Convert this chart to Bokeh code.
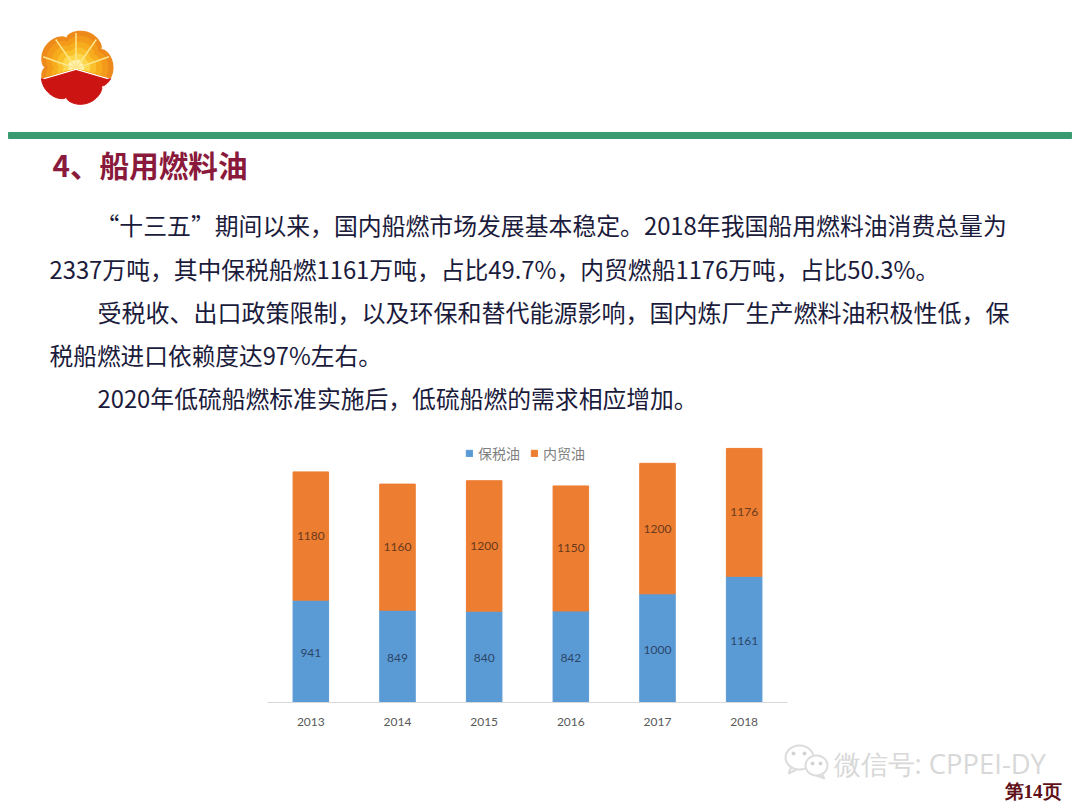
import math
from bokeh.plotting import figure
from bokeh.layouts import column
from bokeh.models import Legend, LegendItem, ColumnDataSource, FactorRange, Range1d
from bokeh.core.properties import value
from bokeh.embed import file_html
from bokeh.resources import INLINE

years = ["2013", "2014", "2015", "2016", "2017", "2018"]
bonded = [941, 849, 840, 842, 1000, 1161]
domestic = [1180, 1160, 1200, 1150, 1200, 1176]
series_names = ["保税油", "内贸油"]
title_text = "4、船用燃料油"
body_lines = [
    ("“十三五”期间以来，国内船燃市场发展基本稳定。2018年我国船用燃料油消费总量为", 95, 223.5, 23.85),
    ("2337万吨，其中保税船燃1161万吨，占比49.7%，内贸燃船1176万吨，占比50.3%。", 49, 267.5, 23.8),
    ("受税收、出口政策限制，以及环保和替代能源影响，国内炼厂生产燃料油积极性低，保", 97, 310.5, 24),
    ("税船燃进口依赖度达97%左右。", 49, 354.5, 23.7),
    ("2020年低硫船燃标准实施后，低硫船燃的需求相应增加。", 97, 396.5, 23.8),
]
CJK = "Noto Sans CJK SC"


def panel(height, top):
    f = figure(width=1080, height=height, output_backend="svg", toolbar_location=None, tools="",
               x_range=Range1d(0, 1080), y_range=Range1d(top + height, top),
               x_axis_type=None, y_axis_type=None, min_border=0)
    f.outline_line_color = None
    f.grid.visible = False
    f.frame_align = False
    return f


def put(f, text, x, y, size, color, font=CJK, style="normal"):
    f.text([x], [y], text=[text], text_font=value(font), text_font_size=f"{size}px",
           text_font_style=style, text_color=color, text_align="left", text_baseline="middle")


# ---------- header ----------
h = panel(440, 0)
h.quad(left=[8], right=[1071], top=[132], bottom=[138], color="#3a9a70")

cx, cy = 75.5, 67


def rim(deg):
    t = math.radians(deg)
    r = 31.5 + 6.0 * abs(math.cos(2.5 * t)) ** 0.6
    return r * math.cos(t), -r * math.sin(t)


def fan(scale):
    pts = [(cx + scale * rim(d)[0], cy + scale * rim(d)[1]) for d in range(-18, 199, 3)]
    return pts + [(cx, cy + 1)]


for s, c in [(1.0, "#ee8a1c"), (0.86, "#f39a1a"), (0.7, "#f7ac1e"), (0.54, "#fac02c"), (0.38, "#fdd84e"), (0.22, "#fff2b0")]:
    pts = fan(s)
    h.patch([a for a, _ in pts], [b for _, b in pts], color=c, line_width=0)
for d in [18, 54, 90, 126, 162]:
    ex, ey = rim(d)
    h.line([cx, cx + ex * 0.95], [cy + 1, cy + ey * 0.95], line_color="#fde68a", line_width=1.5)
red = [(cx - 31, cy + 12)] + [(cx + rim(d)[0], cy + rim(d)[1]) for d in range(198, 343, 3)] + [(cx + 31, cy + 12), (cx, cy + 3)]
h.patch([a for a, _ in red], [b for _, b in red], color="#cc1512", line_width=1)

put(h, title_text, 52, 164, 29.6, "#8a1a3c", style="bold")
for text, x, y, size in body_lines:
    put(h, text, x, y, size, "#1b1b3c")

# ---------- chart ----------
p = figure(width=1080, height=300, output_backend="svg", toolbar_location=None, tools="",
           x_range=FactorRange(factors=years), y_range=Range1d(0, 2410),
           frame_width=520, frame_height=262)
p.frame_align = False
p.min_border_left = 267
p.min_border_right = 293
p.min_border_top = 0
p.min_border_bottom = 38
p.outline_line_color = None
p.grid.visible = False
p.yaxis.visible = False
ax = p.xaxis[0]
ax.axis_line_color = "#d9d9d9"
ax.major_tick_line_color = None
ax.minor_tick_line_color = None
ax.major_label_text_font = "Lato"
ax.major_label_text_font_size = "12px"
ax.major_label_text_color = "#595959"
ax.major_label_standoff = 9

src = ColumnDataSource(dict(
    x=years, a=bonded, b=domestic,
    a_mid=[v / 2 for v in bonded],
    b_mid=[a + v / 2 for a, v in zip(bonded, domestic)],
    a_txt=[str(v) for v in bonded], b_txt=[str(v) for v in domestic]))
rs = p.vbar_stack(["a", "b"], x="x", width=0.41, color=["#5b9bd5", "#ed7d31"], source=src)
p.text("x", "a_mid", text="a_txt", source=src, text_align="center", text_baseline="middle", y_offset=1.5,
       text_font=value("Lato"), text_font_size="12px", text_color="#2b4668")
p.text("x", "b_mid", text="b_txt", source=src, text_align="center", text_baseline="middle",
       text_font=value("Lato"), text_font_size="12px", text_color="#6a3a1e")

legend = Legend(items=[LegendItem(label=value(n), renderers=[r]) for n, r in zip(series_names, rs)],
                location=(198, 239), orientation="horizontal", glyph_width=8, glyph_height=8,
                label_standoff=5, spacing=10, padding=0, margin=0, border_line_color=None,
                background_fill_alpha=0, label_text_font=CJK, label_text_font_size="14px",
                label_text_color="#7f7f7f")
p.add_layout(legend, "center")

# ---------- footer ----------
ft = panel(70, 740)


def bubble(ox, oy, rx, ry):
    return ([ox + rx * math.cos(math.radians(a)) for a in range(0, 372, 12)],
            [oy + ry * math.sin(math.radians(a)) for a in range(0, 372, 12)])


xs, ys = bubble(799, 757, 14, 12)
ft.line(xs, ys, line_color="#dcdcdc", line_width=2)
ft.line([791, 788, 796], [766, 773, 769], line_color="#dcdcdc", line_width=2)
xs, ys = bubble(816, 765, 11, 10)
ft.patch(xs, ys, fill_color="white", line_color="#dcdcdc", line_width=2)
ft.line([821, 824, 816], [773, 778, 775], line_color="#dcdcdc", line_width=2)
ft.scatter([793, 804, 812, 820], [753, 753, 763, 763], size=3, color="#d0d0d0")
put(ft, "微信号: CPPEI-DY", 833, 763, 27.4, "#d8d8d8", font="Open Sans")
put(ft, "第14页", 1004, 791, 19, "#5e0f18", font="Liberation Serif", style="bold")

page = column(h, p, ft, spacing=0)
open("out.html", "w").write(file_html(page, INLINE))
